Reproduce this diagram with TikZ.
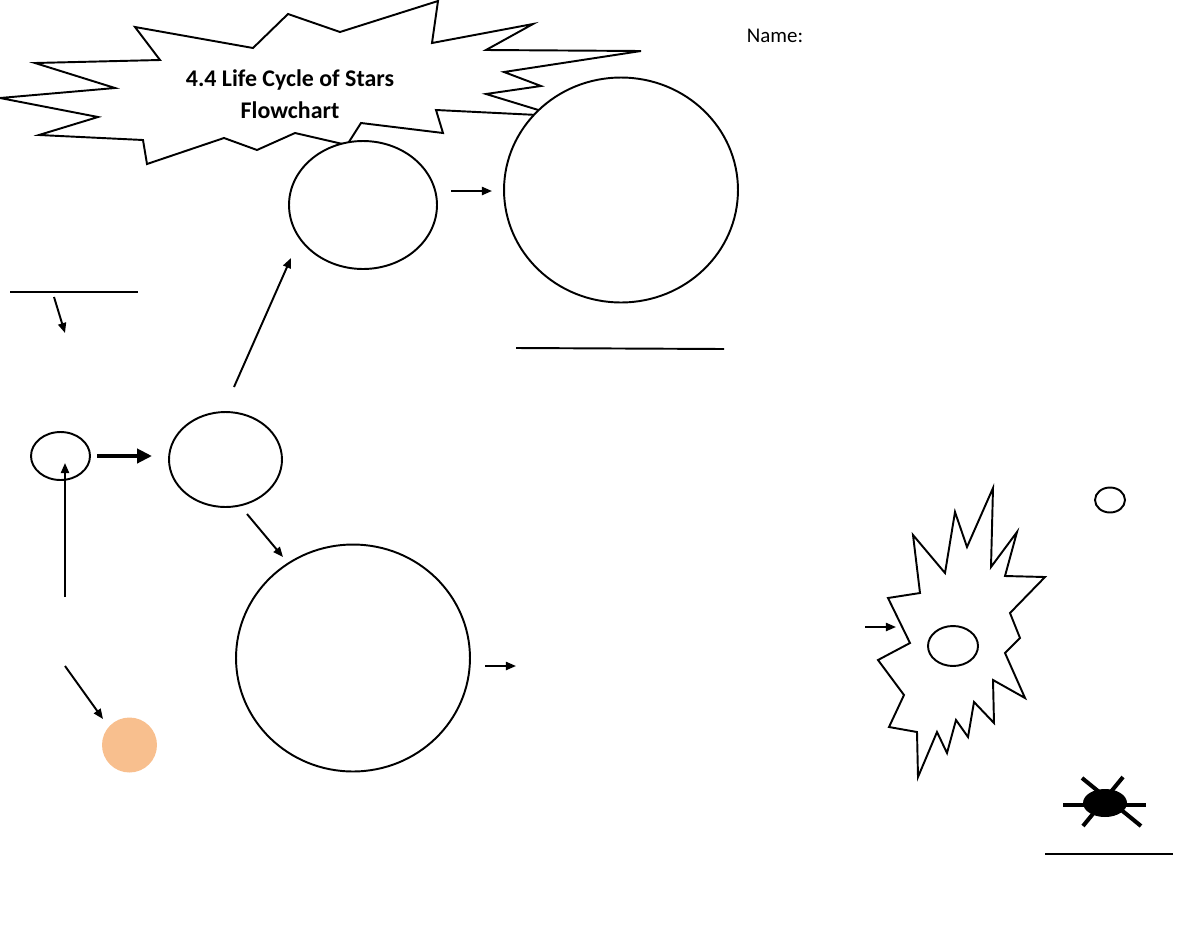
\documentclass[tikz,border=0pt]{standalone}
\usepackage{fontspec}
\setmainfont{Carlito}
\usetikzlibrary{arrows.meta,shapes.geometric}

\definecolor{peach}{HTML}{F8BF8E}

\tikzset{
  outline/.style={draw,line width=1.1pt},
  orb/.style={outline,ellipse,fill=white,inner sep=0pt},
  arr/.style={line width=1.1pt,-{Triangle[length=5.7pt,width=4.6pt]}},
  fatarr/.style={line width=2.8pt,-{Triangle[length=8.5pt,width=8pt]}},
  blank/.style={line width=1.1pt},
  ray/.style={line width=2.3pt},
}

\begin{document}
\begin{tikzpicture}[x=0.02cm,y=-0.02cm]
        \useasboundingbox (0,0) rectangle (1200,927);

        % title burst
        \draw[outline,fill=white] (135,27) -- (253,48) -- (288,14) -- (340,32) -- (438,1) -- (432,43)
          -- (533,24) -- (486,50) -- (641,51) -- (504,72) -- (541,86) -- (486,94) -- (558,116)
          -- (436,110) -- (443,133) -- (361,123) -- (347,145) -- (295,133) -- (257,150) -- (224,138)
          -- (147,164) -- (143,140) -- (39,135) -- (98,117) -- (0,98) -- (115,88) -- (35,63)
          -- (160,60) -- cycle;
        \node[font=\bfseries\fontsize{13.6}{18.5}\selectfont,align=center] (title) at (290,94) {4.4 Life Cycle of Stars\\Flowchart};
        \node[font=\fontsize{11.9}{14}\selectfont] (name) at (775,36) {Name:};

        % stars
        \node[orb,minimum width=1.18cm,minimum height=0.96cm] (protostar) at (60.5,456) {};
        \node[orb,minimum width=2.26cm,minimum height=1.9cm] (mainseq) at (225.5,459.5) {};
        \node[orb,minimum width=2.96cm,minimum height=2.56cm] (redgiant) at (363,205) {};
        \node[orb,minimum width=4.68cm,minimum height=4.5cm] (giant) at (621,190) {};
        \node[orb,minimum width=4.68cm,minimum height=4.54cm] (supergiant) at (353,658) {};
        \node[ellipse,fill=peach,minimum size=1.1cm,inner sep=0pt] (dwarf) at (129.5,745) {};
        \node[orb,minimum width=0.6cm,minimum height=0.5cm] (neutron) at (1110,500) {};

        % supernova
        \draw[outline,fill=white] (913,535) -- (945,573) -- (955,512) -- (967,547) -- (993,488) -- (991,567)
          -- (1017,532) -- (1005,576) -- (1045,577) -- (1010,613) -- (1020,638) -- (1005,653)
          -- (1025,698) -- (993,680) -- (994,723) -- (974,702) -- (968,737) -- (956,720)
          -- (947,753) -- (937,732) -- (918,777) -- (917,732) -- (889,727) -- (904,695)
          -- (878,660) -- (910,643) -- (888,598) -- (920,593) -- cycle;
        \node[orb,minimum width=1cm,minimum height=0.8cm] (core) at (953,646) {};

        % black hole
        \draw[ray] (1063,805) -- (1146,805);
        \draw[ray] (1082,778) -- (1141,826);
        \draw[ray] (1123,777) -- (1083,826);
        \node[ellipse,fill=black,minimum width=0.88cm,minimum height=0.56cm,inner sep=0pt] (hole) at (1105,803) {};

        % answer lines
        \coordinate (l1a) at (10,292);    \coordinate (l1b) at (138,292);
        \coordinate (l2a) at (516,348);   \coordinate (l2b) at (724,349);
        \coordinate (l3a) at (1045,854);  \coordinate (l3b) at (1173,854);
        \draw[blank] (l1a) -- (l1b);
        \draw[blank] (l2a) -- (l2b);
        \draw[blank] (l3a) -- (l3b);

        % arrows
        \coordinate (a1s) at (54,297);    \coordinate (a1e) at (65,333);
        \coordinate (a2s) at (65,597);    \coordinate (a2e) at (65,463);
        \coordinate (a3s) at (65,666);    \coordinate (a3e) at (103,719);
        \coordinate (a4s) at (97,456);    \coordinate (a4e) at (152,456);
        \coordinate (a5s) at (234,387);   \coordinate (a5e) at (291,258);
        \coordinate (a6s) at (247,514);   \coordinate (a6e) at (283,557);
        \coordinate (a7s) at (451,191);   \coordinate (a7e) at (492,191);
        \coordinate (a8s) at (485,666);   \coordinate (a8e) at (516,666);
        \coordinate (a9s) at (865,627);   \coordinate (a9e) at (896,627);
        \draw[arr] (a1s) -- (a1e);
        \draw[arr] (a2s) -- (a2e);
        \draw[arr] (a3s) -- (a3e);
        \draw[fatarr] (a4s) -- (a4e);
        \draw[arr] (a5s) -- (a5e);
        \draw[arr] (a6s) -- (a6e);
        \draw[arr] (a7s) -- (a7e);
        \draw[arr] (a8s) -- (a8e);
        \draw[arr] (a9s) -- (a9e);
    \end{tikzpicture}
\end{document}
